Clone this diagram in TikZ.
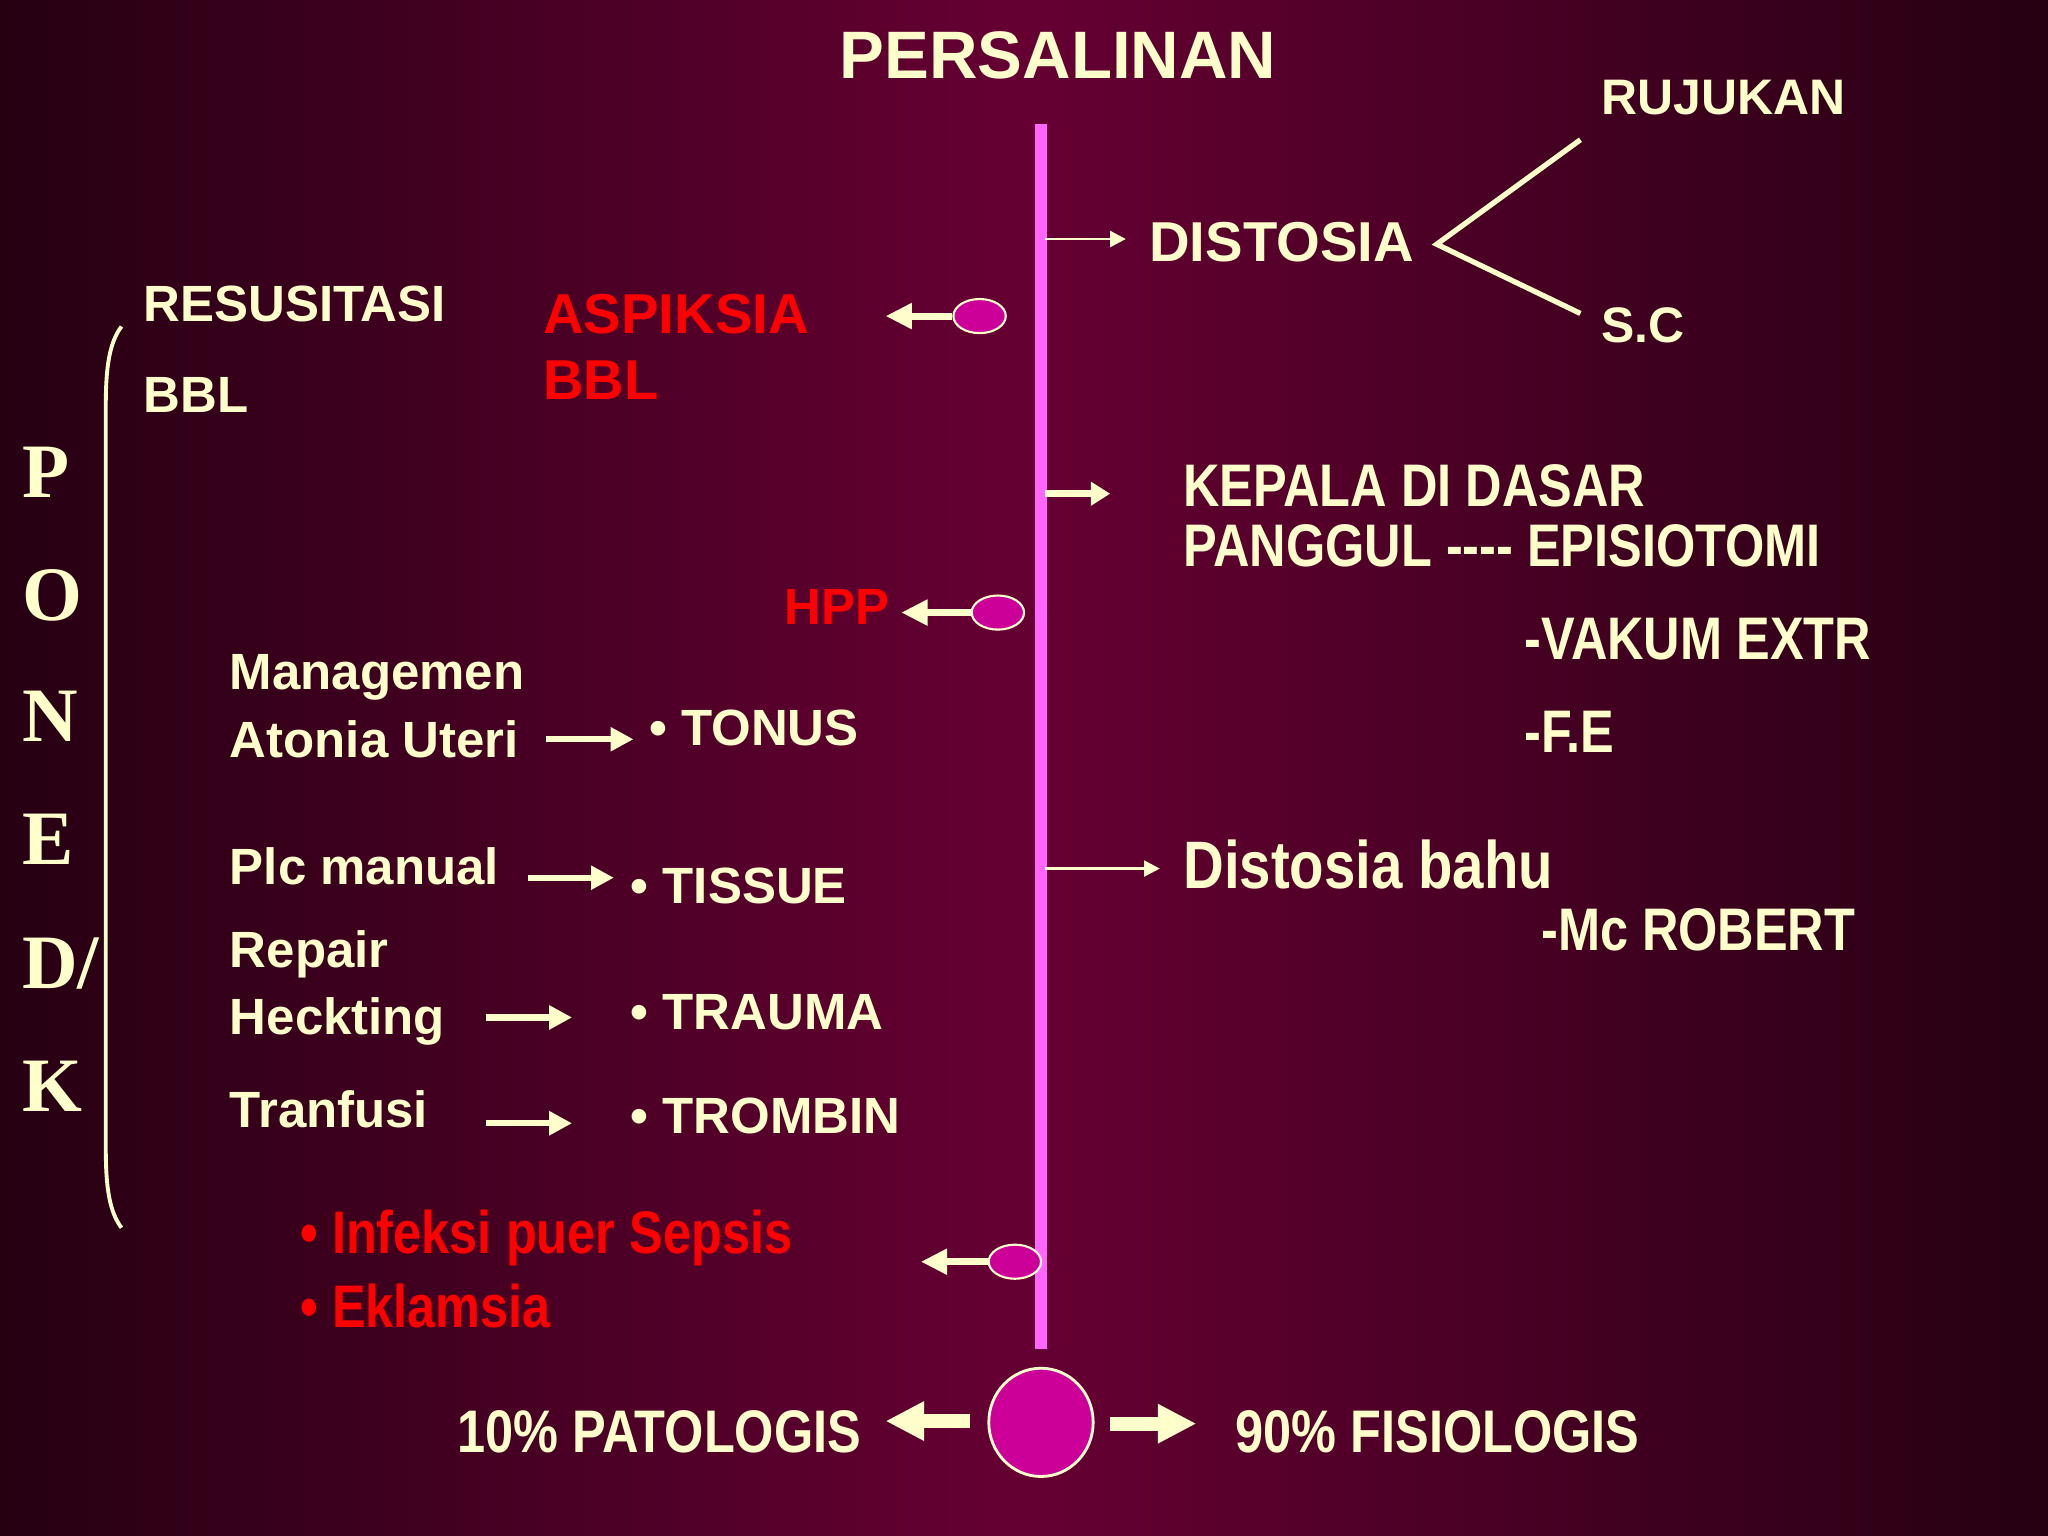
\documentclass[tikz,border=0pt]{standalone}
\usepackage{fontspec}
\setmainfont{Liberation Sans}
\newfontfamily\narrowfont{Liberation Sans}[FakeStretch=0.84]
\newfontfamily\ponekfont{Liberation Serif}
\usetikzlibrary{arrows.meta,shapes.geometric}
\definecolor{cream}{RGB}{255,255,204}
\definecolor{bgmid}{RGB}{102,0,51}
\definecolor{bgedge}{RGB}{38,0,18}
\definecolor{linepink}{RGB}{255,102,255}
\definecolor{dotmag}{RGB}{204,0,153}
\definecolor{redtxt}{RGB}{255,0,0}
\tikzset{
  txt/.style={inner sep=0pt, outer sep=0pt, anchor=base west, text=cream,
    font=\bfseries\fontsize{14.5}{17}\selectfont},
  bigtxt/.style={txt, font=\bfseries\fontsize{16}{19}\selectfont},
  ntxt/.style={txt, font=\narrowfont\bfseries\fontsize{17.1}{20}\selectfont},
  redt/.style={text=redtxt},
  ponek/.style={txt, font=\ponekfont\bfseries\fontsize{21.9}{25}\selectfont},
  thinarrow/.style={draw=cream, line width=0.8pt, -{Triangle[length=4.5pt,width=4.5pt]}},
  medarrow/.style={draw=cream, line width=1.8pt, -{Triangle[length=6.5pt,width=6.5pt]}},
  dotarrow/.style={draw=cream, line width=2pt, -{Triangle[length=7.5pt,width=7pt]}},
  bigarrow/.style={draw=cream, line width=4pt, -{Triangle[length=11pt,width=10.5pt]}},
  dot/.style={ellipse, draw=cream, line width=0.6pt, fill=dotmag, inner sep=0pt,
    minimum width=14.9pt, minimum height=9.7pt},
  branch/.style={draw=cream, line width=1.5pt},
}
\begin{document}
\begin{tikzpicture}[x=0.01306cm, y=-0.01306cm]
\useasboundingbox (0,0) rectangle (1568,1176);
\shade[left color=bgedge, right color=bgedge, middle color=bgmid] (0,0) rectangle (1568,1176);

% timeline
\coordinate (ltop) at (797,95);
\coordinate (lbot) at (797,1033);
\draw[linepink, line width=3.5pt] (ltop) -- (lbot);

% title
\node[txt, anchor=base, font=\bfseries\fontsize{19.1}{22}\selectfont] (title) at (810,60) {PERSALINAN};

% right side
\node[txt, font=\bfseries\fontsize{14.2}{17}\selectfont] (rujukan) at (1226,88) {RUJUKAN};
\node[bigtxt] (distosia) at (880,200) {DISTOSIA};
\node[txt, font=\bfseries\fontsize{14.2}{17}\selectfont] (sc) at (1226,262) {S.C};
\coordinate (fork) at (1100,187);
\coordinate (forkup) at (1210,107);
\coordinate (forkdn) at (1210,240);
\draw[branch] (forkup) -- (fork) -- (forkdn);

\node[ntxt] (kepala) at (906,388) {KEPALA DI DASAR};
\node[ntxt] (panggul) at (906,434) {PANGGUL ---- EPISIOTOMI};
\node[ntxt] (vakum) at (1167,505) {-VAKUM EXTR};
\node[ntxt] (fe) at (1167,576) {-F.E};
\node[ntxt, font=\narrowfont\bfseries\fontsize{19.1}{22}\selectfont] (bahu) at (906,680) {Distosia bahu};
\node[ntxt] (mcrobert) at (1180,728) {-Mc ROBERT};

\coordinate (a1s) at (800,183);
\coordinate (a1e) at (862,183);
\draw[thinarrow] (a1s) -- (a1e);
\coordinate (a2s) at (800,378);
\coordinate (a2e) at (850,378);
\draw[draw=cream, line width=2pt, -{Triangle[length=5.5pt,width=6.5pt]}] (a2s) -- (a2e);
\coordinate (a3s) at (800,665);
\coordinate (a3e) at (888,665);
\draw[thinarrow] (a3s) -- (a3e);

% left side
\node[txt] (resus) at (110,246) {RESUSITASI};
\node[txt] (bbl) at (110,316) {BBL};
\node[bigtxt, redt] (aspiksia) at (416,255) {ASPIKSIA};
\node[bigtxt, redt] (bblred) at (416,306) {BBL};
\node[txt, redt] (hpp) at (601,478) {HPP};

\node[ponek] (p1) at (17,381) {P};
\node[ponek] (p2) at (17,475) {O};
\node[ponek] (p3) at (17,568) {N};
\node[ponek] (p4) at (17,662) {E};
\node[ponek] (p5) at (17,757) {D/};
\node[ponek] (p6) at (17,851) {K};
\coordinate (brtop) at (93,250);
\coordinate (brbot) at (93,940);
\draw[cream, line width=1.1pt] (brtop) .. controls (84,262) and (81,280) .. (81,310)
  -- (81,880) .. controls (81,910) and (84,928) .. (brbot);

\node[txt] (manag) at (176,528) {Managemen};
\node[txt] (atonia) at (176,580) {Atonia Uteri};
\node[txt] (tonus) at (497,571) {\textbullet\ TONUS};
\node[txt] (plc) at (176,677) {Plc manual};
\node[txt] (tissue) at (483,692) {\textbullet\ TISSUE};
\node[txt] (repair) at (176,741) {Repair};
\node[txt] (heck) at (176,792) {Heckting};
\node[txt] (trauma) at (483,788) {\textbullet\ TRAUMA};
\node[txt] (tranf) at (176,863) {Tranfusi};
\node[txt] (trombin) at (483,868) {\textbullet\ TROMBIN};

\coordinate (m1s) at (418,566); \coordinate (m1e) at (485,566);
\coordinate (m2s) at (404,672); \coordinate (m2e) at (470,672);
\coordinate (m3s) at (372,779); \coordinate (m3e) at (438,779);
\coordinate (m4s) at (372,860); \coordinate (m4e) at (438,860);
\draw[medarrow] (m1s) -- (m1e);
\draw[medarrow] (m2s) -- (m2e);
\draw[medarrow] (m3s) -- (m3e);
\draw[medarrow] (m4s) -- (m4e);

\node[ntxt, redt] (infeksi) at (230,960) {\textbullet\ Infeksi puer Sepsis};
\node[ntxt, redt] (eklam) at (230,1016) {\textbullet\ Eklamsia};

% dots with arrows
\node[dot] (d1) at (750,242) {};
\coordinate (d1e) at (678,242);
\draw[dotarrow] (d1.west) -- (d1e);
\node[dot] (d2) at (764,469) {};
\coordinate (d2e) at (690,469);
\draw[dotarrow] (d2.west) -- (d2e);
\node[dot] (d3) at (777,966) {};
\coordinate (d3e) at (705,966);
\draw[dotarrow] (d3.west) -- (d3e);

% bottom
\node[dot, minimum width=29.7pt, minimum height=30.8pt, line width=0.8pt] (big) at (797,1089) {};
\coordinate (b1s) at (743,1088); \coordinate (b1e) at (678,1088);
\coordinate (b2s) at (850,1090); \coordinate (b2e) at (916,1090);
\draw[bigarrow] (b1s) -- (b1e);
\draw[bigarrow] (b2s) -- (b2e);
\node[ntxt] (pato) at (350,1112) {10\% PATOLOGIS};
\node[ntxt] (fisio) at (946,1112) {90\% FISIOLOGIS};
\end{tikzpicture}
\end{document}
